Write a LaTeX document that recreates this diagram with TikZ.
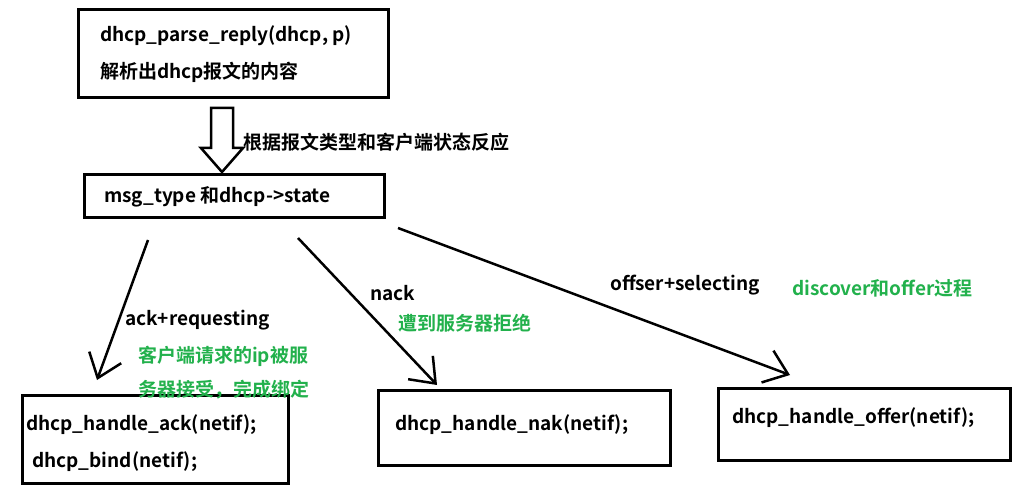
\documentclass[tikz,border=0pt]{standalone}
\usepackage{fontspec}
\setmainfont{Noto Sans CJK SC}[BoldFont={Noto Sans CJK SC Bold}]
\usetikzlibrary{arrows.meta}
\definecolor{grn}{RGB}{34,177,76}
\begin{document}
\begin{tikzpicture}[x=1pt,y=-1pt,
  box/.style={draw,line width=3pt},
  txt/.style={anchor=west,inner sep=0pt,font=\fontsize{19}{22}\selectfont\bfseries},
  gtxt/.style={txt,text=grn},
  conn/.style={line width=2.5pt,-{Straight Barb[length=22pt,width=34pt,line width=2.5pt]}}]
\useasboundingbox[fill=white] (0,0) rectangle (1021,497);
\draw[box] (78,10) rectangle (388,98);
\node[txt] (t1) at (100,36) {dhcp\_parse\_reply(dhcp, p)};
\node[txt] (t2) at (100,72) {解析出dhcp报文的内容};
\draw[line width=2.5pt] (211,108) -- (233,108) -- (233,148) -- (243,148) -- (222,172) -- (201,148) -- (211,148) -- cycle;
\node[txt] (why) at (243,142) {根据报文类型和客户端状态反应};
\draw[box] (84,175) rectangle (384,218);
\node[txt] (m) at (104,197) {msg\_type 和dhcp->state};
\draw[box] (22,395) rectangle (288,483);
\node[txt] (a1) at (26,425) {dhcp\_handle\_ack(netif);};
\node[txt] (a2) at (32,462) {dhcp\_bind(netif);};
\draw[box] (378,390) rectangle (670,465);
\node[txt] (n1) at (395,425) {dhcp\_handle\_nak(netif);};
\draw[box] (718,388) rectangle (1010,460);
\node[txt] (o1) at (732,418) {dhcp\_handle\_offer(netif);};
\coordinate (s1) at (148,240); \coordinate (e1) at (97,380);
\coordinate (s2) at (298,238); \coordinate (e2) at (437,385);
\coordinate (s3) at (398,228); \coordinate (e3) at (790,375);
\draw[conn] (s1) -- (e1);
\draw[conn] (s2) -- (e2);
\draw[conn] (s3) -- (e3);
\node[txt] (l1) at (125,320) {ack+requesting};
\node[gtxt] (g1) at (138,356) {客户端请求的ip被服};
\node[gtxt] (g2) at (138,390) {务器接受，完成绑定};
\node[txt] (l2) at (370,293) {nack};
\node[gtxt] (g3) at (398,323) {遭到服务器拒绝};
\node[txt] (l3) at (610,285) {offser+selecting};
\node[gtxt] (g4) at (792,288) {discover和offer过程};
\end{tikzpicture}
\end{document}
